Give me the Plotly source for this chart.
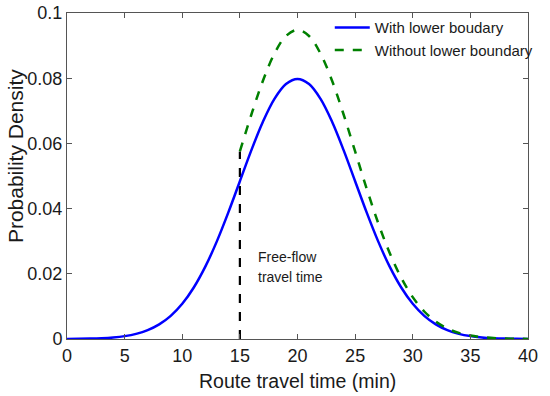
import plotly.graph_objects as go

x_all = list(range(0, 41))
with_lower = [0.0000268, 0.0000584, 0.000122, 0.000246, 0.000477, 0.000886, 0.001583, 0.002717,
              0.004479, 0.007095, 0.010798, 0.015790, 0.022184, 0.029946, 0.038837, 0.048394,
              0.057938, 0.066645, 0.073654, 0.078209, 0.079788, 0.078209, 0.073654, 0.066645,
              0.057938, 0.048394, 0.038837, 0.029946, 0.022184, 0.015790, 0.010798, 0.007095,
              0.004479, 0.002717, 0.001583, 0.000886, 0.000477, 0.000246, 0.000122, 0.0000584,
              0.0000268]
x_trunc = list(range(15, 41))
without_lower = [0.057520, 0.068863, 0.079212, 0.087543, 0.092957, 0.094833, 0.092957, 0.087543,
                 0.079212, 0.068863, 0.057520, 0.046161, 0.035593, 0.026367, 0.018768, 0.012834,
                 0.008433, 0.005324, 0.003229, 0.001881, 0.001053, 0.000567, 0.000292, 0.000145,
                 0.0000694, 0.0000319]
free_flow_x = [15, 15]
free_flow_y = [0, 0.057520]
x_ticks = [0, 5, 10, 15, 20, 25, 30, 35, 40]
y_ticks = [0, 0.02, 0.04, 0.06, 0.08, 0.1]
y_ticklabels = ["0", "0.02", "0.04", "0.06", "0.08", "0.1"]

FONT = "Arial, Liberation Sans, sans-serif"
TXT = "#1a1a1a"

fig = go.Figure()
fig.add_trace(go.Scatter(x=free_flow_x, y=free_flow_y, mode="lines",
                         line=dict(color="black", width=2.2, dash="dash"),
                         showlegend=False, hoverinfo="skip"))
fig.add_trace(go.Scatter(x=x_all, y=with_lower, mode="lines", name="With lower boudary",
                         line=dict(color="#0000ff", width=2.5, shape="spline")))
fig.add_trace(go.Scatter(x=x_trunc, y=without_lower, mode="lines", name="Without lower boundary",
                         line=dict(color="#008000", width=2.5, dash="dash", shape="spline")))

fig.add_annotation(x=16.4, y=0.0251, xref="x", yref="y", text="Free-flow",
                   showarrow=False, xanchor="left", yanchor="middle",
                   font=dict(family=FONT, size=14, color=TXT))
fig.add_annotation(x=16.4, y=0.0190, xref="x", yref="y", text="travel time",
                   showarrow=False, xanchor="left", yanchor="middle",
                   font=dict(family=FONT, size=14, color=TXT))

# axis titles
fig.add_annotation(x=0.5, y=-0.13, xref="paper", yref="paper", text="Route travel time (min)",
                   showarrow=False, xanchor="center", yanchor="middle",
                   font=dict(family=FONT, size=19.5, color=TXT))
fig.add_annotation(x=-0.1128, y=0.561, xref="paper", yref="paper", text="Probability Density",
                   showarrow=False, xanchor="center", yanchor="middle", textangle=-90,
                   font=dict(family=FONT, size=21, color=TXT))

axis_common = dict(showline=True, linecolor="#555555", linewidth=1, mirror="ticks",
                   ticks="inside", ticklen=5, tickcolor="#555555", showgrid=False,
                   zeroline=False, automargin=False,
                   tickfont=dict(family=FONT, size=18, color=TXT))

fig.update_layout(
    width=550, height=396,
    margin=dict(l=67, r=13, t=11, b=57),
    paper_bgcolor="white", plot_bgcolor="white",
    font=dict(family=FONT, color=TXT),
    xaxis=dict(range=[0, 40], tickvals=x_ticks, **axis_common),
    yaxis=dict(range=[0, 0.1], tickvals=y_ticks, ticktext=y_ticklabels, **axis_common),
    legend=dict(x=0.57, y=1.005, xanchor="left", yanchor="top", bgcolor="rgba(0,0,0,0)",
                borderwidth=0, font=dict(family=FONT, size=15, color=TXT),
                itemwidth=35, tracegroupgap=0),
)

fig.write_html("out.html",
               config={"displayModeBar": False},
               post_script="document.body.style.margin='0';"
                           "document.documentElement.style.overflow='hidden';")
